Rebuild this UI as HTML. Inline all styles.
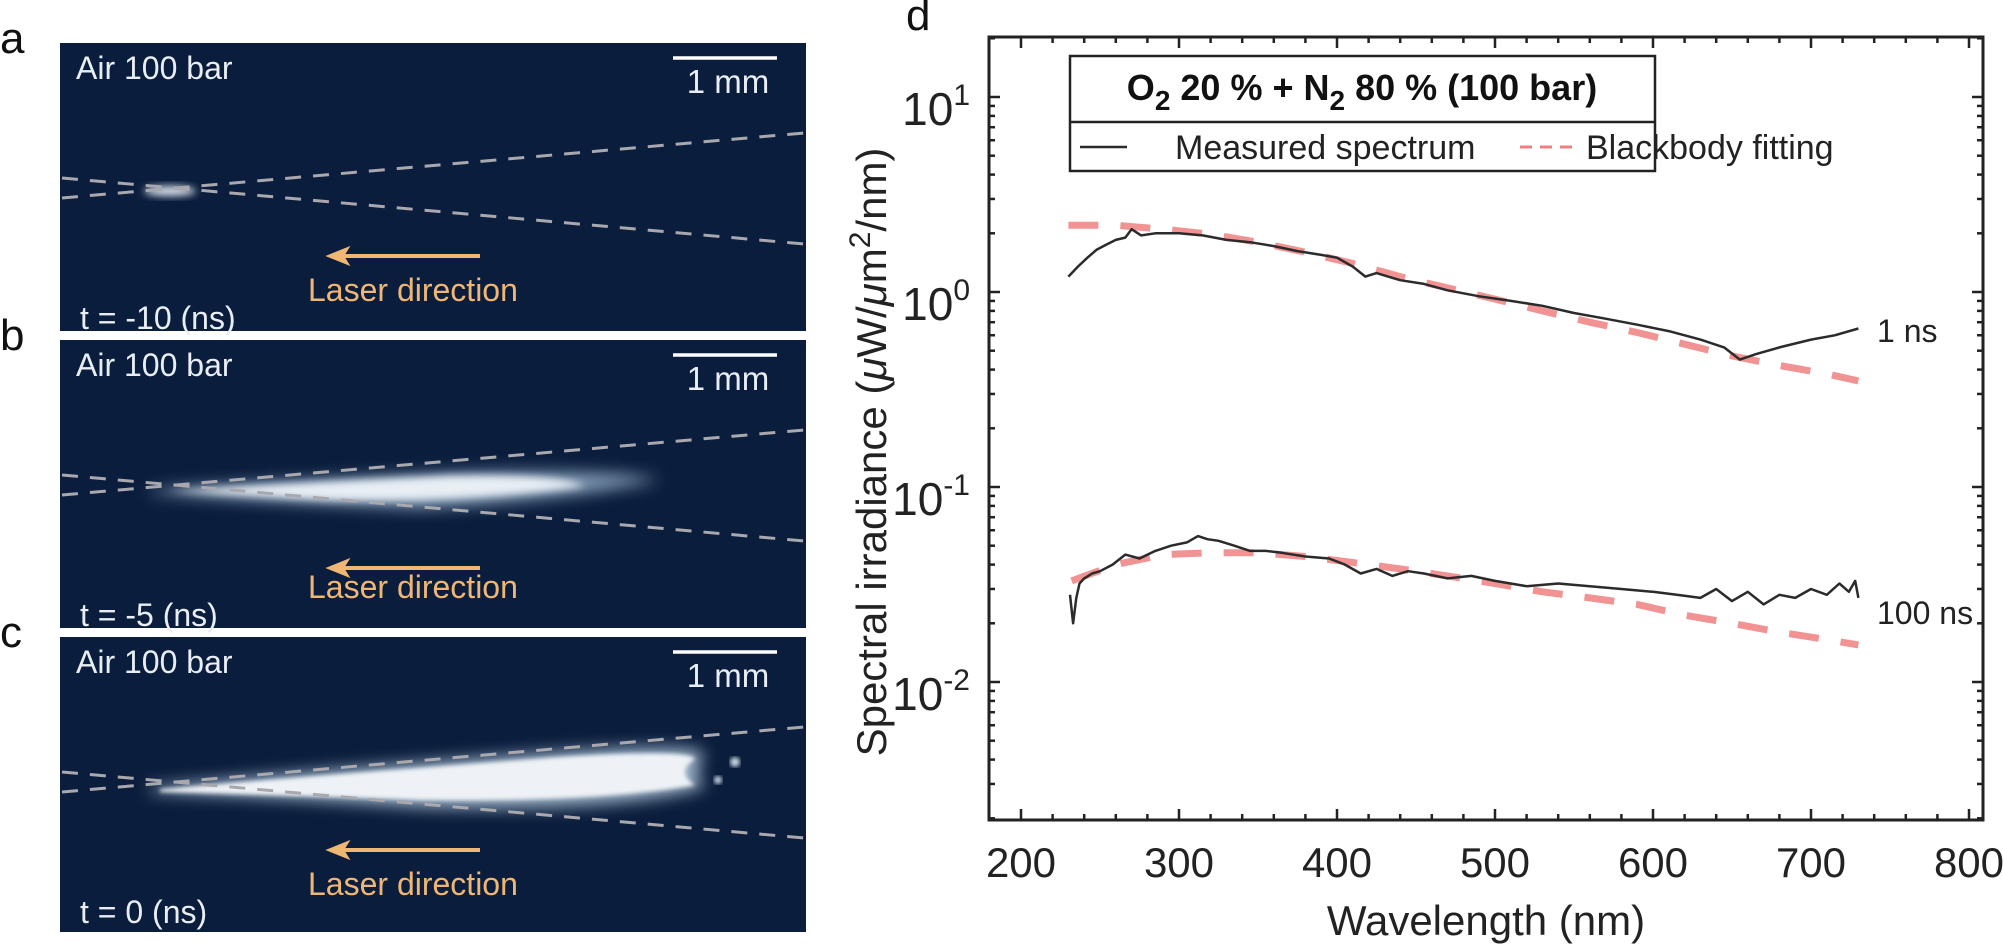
<!DOCTYPE html>
<html><head><meta charset="utf-8"><style>
body{margin:0;background:#fff;}
svg{display:block;font-family:"Liberation Sans",Arial,sans-serif;}
</style></head><body>
<svg id="fig" width="2003" height="948" viewBox="0 0 2003 948">
<defs>
<filter id="blur8" x="-20%" y="-50%" width="140%" height="200%"><feGaussianBlur stdDeviation="8"/></filter>
<filter id="blur4" x="-20%" y="-50%" width="140%" height="200%"><feGaussianBlur stdDeviation="4"/></filter>
<filter id="blur2"><feGaussianBlur stdDeviation="2"/></filter>
</defs>
<g id="panels"></g>
<g id="chart"></g>
</svg>
<script>
// ---- Chart data ----
const xTicks = [200,300,400,500,600,700,800];
const yTickExp = [1,0,-1,-2];
const wl1 = [230,236,242,248,254,260,266,270,276,285,300,315,330,345,360,375,390,400,410,418,425,440,455,470,490,510,530,550,570,590,610,630,645,655,665,680,700,715,730];
const meas1 = [1.2,1.35,1.5,1.65,1.75,1.85,1.9,2.1,1.95,2.0,2.0,1.95,1.85,1.8,1.72,1.62,1.55,1.5,1.35,1.2,1.25,1.15,1.1,1.02,0.95,0.9,0.85,0.78,0.73,0.68,0.63,0.57,0.52,0.45,0.48,0.52,0.57,0.6,0.65];
const wlFit1 = [230,260,290,320,350,380,410,440,470,500,530,560,590,620,650,680,710,730];
const fit1 = [2.2,2.2,2.1,1.98,1.8,1.6,1.4,1.2,1.05,0.92,0.8,0.7,0.62,0.54,0.47,0.42,0.38,0.35];
const wl100 = [231,233,235,237,240,245,250,258,266,275,285,295,305,312,318,325,335,345,355,365,380,395,405,415,425,435,445,455,470,485,500,520,540,560,580,600,615,630,640,650,660,670,680,690,700,710,718,724,728,730];
const meas100 = [0.028,0.02,0.027,0.032,0.034,0.036,0.037,0.04,0.045,0.043,0.047,0.05,0.052,0.056,0.054,0.053,0.05,0.047,0.047,0.046,0.044,0.043,0.04,0.036,0.038,0.035,0.037,0.036,0.034,0.035,0.033,0.031,0.032,0.031,0.03,0.029,0.028,0.027,0.03,0.026,0.029,0.025,0.028,0.027,0.03,0.028,0.032,0.029,0.033,0.027];
const wlFit100 = [232,260,290,320,350,380,410,440,470,500,530,560,590,620,650,680,710,730];
const fit100 = [0.033,0.04,0.045,0.046,0.046,0.044,0.041,0.038,0.035,0.032,0.029,0.027,0.025,0.022,0.02,0.018,0.0165,0.0155];

const NS='http://www.w3.org/2000/svg';
function mk(tag, attrs, parent){const e=document.createElementNS(NS,tag);for(const k in attrs)e.setAttribute(k,attrs[k]);parent.appendChild(e);return e;}

// ---- Left image panels ----
const panels=document.getElementById('panels');
const pTops=[43,340,637];
const pLabels=['a','b','c'];
const tLabels=['t = -10 (ns)','t = -5 (ns)','t = 0 (ns)'];
pTops.forEach((top,i)=>{
  const g=mk('g',{},panels);
  
  
  const lab=mk('text',{x:0,y:top+10,'font-size':44,fill:'#111'},g); lab.textContent=pLabels[i];
  
  
  mk('rect',{x:60,y:top,width:746,height:i==2?295:288,fill:'#0a1d3c'},g);
  if(i===0){
    mk('ellipse',{cx:170,cy:top+148,rx:26,ry:5,fill:'#dfe8f2',filter:'url(#blur4)'},g);
  } else if(i===1){
    mk('path',{d:`M150 ${top+150} Q300 ${top+140} 470 ${top+133} Q620 ${top+130} 660 ${top+140} Q560 ${top+160} 420 ${top+168} Q280 ${top+162} 150 ${top+153}Z`,fill:'#8aa3bd',filter:'url(#blur8)'},g);
    mk('path',{d:`M165 ${top+151} Q300 ${top+143} 450 ${top+136} Q560 ${top+134} 585 ${top+146} Q470 ${top+162} 330 ${top+160} Z`,fill:'#e8eef4',filter:'url(#blur4)'},g);
  } else {
    mk('path',{d:`M150 ${top+150} Q350 ${top+130} 560 ${top+115} Q700 ${top+105} 705 ${top+118} Q690 ${top+135} 705 ${top+150} Q620 ${top+175} 420 ${top+170} Q280 ${top+160} 150 ${top+155}Z`,fill:'#9fb4c9',filter:'url(#blur8)'},g);
    mk('path',{d:`M160 ${top+152} Q350 ${top+136} 560 ${top+120} Q690 ${top+112} 695 ${top+122} Q675 ${top+135} 695 ${top+148} Q600 ${top+165} 420 ${top+163} Q280 ${top+158} 160 ${top+155}Z`,fill:'#eef2f6',filter:'url(#blur2)'},g);
    mk('circle',{cx:735,cy:top+125,r:5,fill:'#c7d3df',filter:'url(#blur2)'},g);
    mk('circle',{cx:718,cy:top+143,r:4,fill:'#c7d3df',filter:'url(#blur2)'},g);
  }
  mk('line',{x1:62,y1:top+135,x2:804,y2:top+201,stroke:'#a8a8ae','stroke-width':3,'stroke-dasharray':'16 12'},g);
  mk('line',{x1:62,y1:top+155,x2:804,y2:top+90,stroke:'#a8a8ae','stroke-width':3,'stroke-dasharray':'16 12'},g);
  const air=mk('text',{x:76,y:top+36,'font-size':32,fill:'#e8eef4'},g); air.textContent='Air 100 bar';
  mk('line',{x1:673,y1:top+15,x2:777,y2:top+15,stroke:'#fff','stroke-width':3.5},g);
  const mm=mk('text',{x:728,y:top+50,'font-size':33,fill:'#e8eef4','text-anchor':'middle'},g); mm.textContent='1 mm';
  const ay=(i===1)?top+228:top+213;
  mk('line',{x1:480,y1:ay,x2:342,y2:ay,stroke:'#f0b774','stroke-width':4},g);
  mk('path',{d:`M328 ${ay} L348 ${ay-8} L343 ${ay} L348 ${ay+8}Z`,fill:'#f0b774',stroke:'#f0b774','stroke-width':2},g);
  const ld=mk('text',{x:308,y:top+258,'font-size':32,fill:'#f0b774'},g); ld.textContent='Laser direction';
  const tl=mk('text',{x:80,y:top+286,'font-size':32,fill:'#e8eef4'},g); tl.textContent=tLabels[i];
});

// ---- Chart ----
const chart=document.getElementById('chart');
const L=989,R=1983,T=37,B=820;
const X=v=>1021+(v-200)*1.58;
const Y=v=>292-Math.log10(v)*195;
const dl=mk('text',{x:906,y:30,'font-size':44,fill:'#111'},chart); dl.textContent='d';



function line(xs,ys,attrs,name){
  const d=xs.map((x,i)=>(i?'L':'M')+X(x).toFixed(1)+' '+Y(ys[i]).toFixed(1)).join(' ');
  const p=mk('path',Object.assign({d:d,fill:'none'},attrs),chart);
  
  
}
const fitStyle={stroke:'#f08080','stroke-width':7,'stroke-dasharray':'30 22','stroke-opacity':0.85};
const measStyle={stroke:'#2b2b2b','stroke-width':2.5,'stroke-linejoin':'round'};
line(wlFit1,fit1,fitStyle,'fit-1ns');
line(wlFit100,fit100,fitStyle,'fit-100ns');
line(wl1,meas1,measStyle,'measured-1ns');
line(wl100,meas100,measStyle,'measured-100ns');

mk('rect',{x:L,y:T,width:R-L,height:B-T,fill:'none',stroke:'#222','stroke-width':3},chart);
for(let v=180;v<=820;v+=20){
  const major=(v%100===0);const len=major?11:6;const x=X(v);
  if(x<=L+1||x>=R-1)continue;
  mk('line',{x1:x,y1:B,x2:x,y2:B-len,stroke:'#222','stroke-width':2.5},chart);
  mk('line',{x1:x,y1:T,x2:x,y2:T+len,stroke:'#222','stroke-width':2.5},chart);
}
xTicks.forEach(v=>{
  const t=mk('text',{x:X(v),y:877,'font-size':42,fill:'#222','text-anchor':'middle'},chart);t.textContent=v;
  
  
});
for(let e=-3;e<=1;e++){
  for(let m=1;m<=9;m++){
    const v=m*Math.pow(10,e);const y=Y(v);
    if(y<T+1||y>B-1)continue;
    const len=m===1?11:6;
    mk('line',{x1:L,y1:y,x2:L+len,y2:y,stroke:'#222','stroke-width':2.5},chart);
    mk('line',{x1:R,y1:y,x2:R-len,y2:y,stroke:'#222','stroke-width':2.5},chart);
  }
}
yTickExp.forEach(e=>{
  const t=mk('text',{x:970,y:Y(Math.pow(10,e))+28,'font-size':46,fill:'#222','text-anchor':'end'},chart);
  t.textContent='10';
  const s=mk('tspan',{dy:-20,'font-size':30},t);s.textContent=String(e);
  
  
});
const xt=mk('text',{x:1486,y:935,'font-size':42,fill:'#222','text-anchor':'middle'},chart);
xt.textContent='Wavelength (nm)';


const yt=mk('text',{x:0,y:0,'font-size':42,fill:'#222','text-anchor':'middle',transform:'translate(886,452) rotate(-90)'},chart);
yt.innerHTML='Spectral irradiance (<tspan font-style="italic">μ</tspan>W/<tspan font-style="italic">μ</tspan>m<tspan dy="-16" font-size="30">2</tspan><tspan dy="16">/nm)</tspan>';


const l1=mk('text',{x:1877,y:342,'font-size':32,fill:'#222'},chart);l1.textContent='1 ns';


const l2=mk('text',{x:1877,y:624,'font-size':32,fill:'#222'},chart);l2.textContent='100 ns';


const lg=mk('g',{},chart);


mk('rect',{x:1070,y:56,width:585,height:115,fill:'#fff',stroke:'#222','stroke-width':2.5},lg);
mk('line',{x1:1070,y1:122,x2:1655,y2:122,stroke:'#222','stroke-width':2.5},lg);
const lt=mk('text',{x:1362,y:100,'font-size':36,'font-weight':'bold',fill:'#111','text-anchor':'middle'},lg);
lt.innerHTML='O<tspan dy="10" font-size="28">2</tspan><tspan dy="-10"> 20 % + N</tspan><tspan dy="10" font-size="28">2</tspan><tspan dy="-10"> 80 % (100 bar)</tspan>';
mk('line',{x1:1080,y1:147,x2:1127,y2:147,stroke:'#2b2b2b','stroke-width':2.5},lg);
const le1=mk('text',{x:1175,y:159,'font-size':34,fill:'#222'},lg);le1.textContent='Measured spectrum';


mk('line',{x1:1520,y1:147,x2:1578,y2:147,stroke:'#f08080','stroke-width':3,'stroke-dasharray':'12 8'},lg);
const le2=mk('text',{x:1586,y:159,'font-size':34,fill:'#222'},lg);le2.textContent='Blackbody fitting';


</script>
</body></html>
